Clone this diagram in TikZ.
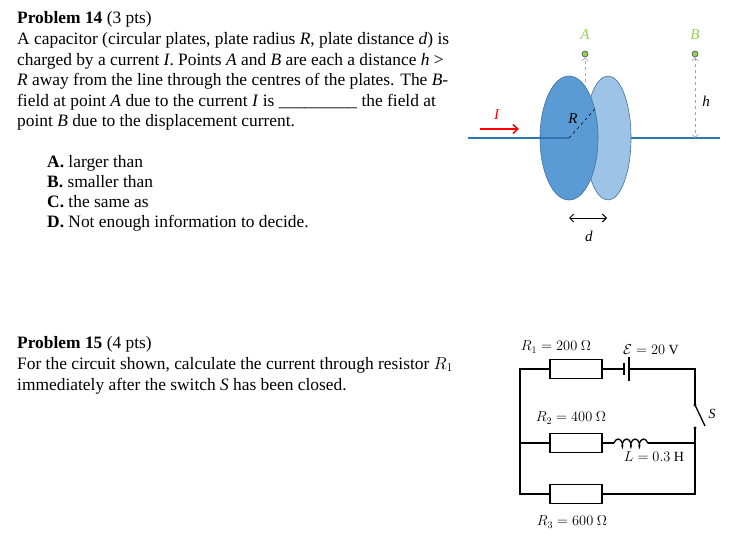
\documentclass[tikz,border=0pt]{standalone}
\usepackage{fontspec}
\setmainfont{Liberation Serif}
\usetikzlibrary{arrows.meta,decorations.pathmorphing,shapes.geometric}
\definecolor{wireblue}{HTML}{2E75B6}
\definecolor{plateA}{HTML}{5B9BD5}
\definecolor{plateB}{HTML}{9DC3E6}
\definecolor{plateE}{HTML}{41719C}
\definecolor{ptgreen}{HTML}{92D050}
\definecolor{lblgreen}{HTML}{92D050}
\tikzset{
  txt/.style={anchor=base west,inner sep=0pt,font=\fontsize{17.4}{20}\selectfont},
  lbl/.style={inner sep=0pt,font=\fontsize{15}{17}\selectfont},
  clbl/.style={inner sep=0pt,font=\fontsize{14}{16}\selectfont},
  res/.style={draw,line width=1.3pt,minimum width=52pt,minimum height=19pt,inner sep=0pt,fill=white},
  wire/.style={line width=1.3pt},
  gdash/.style={gray!70,dashed,line width=0.7pt},
  pt/.style={circle,fill=ptgreen,draw=black!70,line width=0.6pt,inner sep=0pt,minimum size=6pt}
}
\begin{document}
\begin{tikzpicture}[x=1pt,y=-1pt]
\useasboundingbox (0,0) rectangle (735,542);
% Problem 14 text
\node[txt] (l1) at (17,23) {\textbf{Problem 14} (3 pts)};
\node[txt] (l2) at (17,44) {A capacitor (circular plates, plate radius \textit{R}, plate distance \textit{d}) is};
\node[txt] (l3) at (17,65) {charged by a current \textit{I}. Points \textit{A} and \textit{B} are each a distance \textit{h} >};
\node[txt] (l4) at (17,85) {\textit{R} away from the line through the centres of the plates. The \textit{B}-};
\node[txt] (l5) at (17,106) {field at point \textit{A} due to the current \textit{I} is \_\_\_\_\_\_\_\_\_ the field at};
\node[txt] (l6) at (17,126) {point \textit{B} due to the displacement current.};
\node[txt] (o1) at (47,167) {\textbf{A.} larger than};
\node[txt] (o2) at (47,187) {\textbf{B.} smaller than};
\node[txt] (o3) at (47,207) {\textbf{C.} the same as};
\node[txt] (o4) at (47,227) {\textbf{D.} Not enough information to decide.};
% Problem 15 text
\node[txt] (p1) at (17,348) {\textbf{Problem 15} (4 pts)};
\node[txt] (p2) at (17,369) {For the circuit shown, calculate the current through resistor $R_1$};
\node[txt] (p3) at (17,390) {immediately after the switch \textit{S} has been closed.};
% capacitor
\coordinate (wl) at (468,138);
\coordinate (wr) at (720,138);
\draw[wireblue,line width=2pt] (630,138) -- (wr);
\node[ellipse,draw=plateE,fill=plateB,minimum width=46pt,minimum height=124pt,inner sep=0pt,line width=0.6pt] (pb) at (608,138) {};
\node[ellipse,draw=plateE,fill=plateA,minimum width=58pt,minimum height=124pt,inner sep=0pt,line width=0.6pt] (pf) at (569,138) {};
\draw[wireblue,line width=2pt] (wl) -- (569,138);
\coordinate (c) at (569,138);
\coordinate (rr) at (595,109);
\draw[dashed,line width=0.6pt] (c) -- (rr);
\node[lbl] (Rl) at (573,119) {\textit{R}};
\coordinate (i1) at (480,129); \coordinate (i2) at (519,129);
\draw[red,line width=1.5pt,-{Straight Barb[length=5pt,width=9pt]}] (i1) -- (i2);
\node[lbl,red] (Il) at (497,115) {\textit{I}};
\node[pt] (A) at (585,54) {};
\node[pt] (B) at (695,54) {};
\node[lbl,lblgreen] (Al) at (585,35) {\textit{A}};
\node[lbl,lblgreen] (Bl) at (695,35) {\textit{B}};
\coordinate (Ab) at (585,82);
\coordinate (Bb) at (695,138);
\draw[gdash,-{Straight Barb[length=3pt,width=6pt]}] (Ab) -- (A);
\draw[gdash,{Straight Barb[length=3pt,width=6pt]}-{Straight Barb[length=3pt,width=6pt]}] (B) -- (Bb);
\node[lbl] (hl) at (706,101) {\textit{h}};
\coordinate (d1) at (569,218); \coordinate (d2) at (607,218);
\draw[line width=1pt,{Straight Barb[length=4pt,width=8pt]}-{Straight Barb[length=4pt,width=8pt]}] (d1) -- (d2);
\node[lbl] (dl) at (589,236) {\textit{d}};
% circuit
\coordinate (TL) at (520,369); \coordinate (TR) at (695,369);
\coordinate (ML) at (520,443); \coordinate (MR) at (695,443);
\coordinate (BL) at (520,494); \coordinate (BR) at (695,494);
\coordinate (bat1) at (624,369); \coordinate (bat2) at (629,369);
\coordinate (s1) at (695,405); \coordinate (s2) at (695,428);
\coordinate (sb) at (705,426);
\coordinate (ind1) at (614,443); \coordinate (ind2) at (648,443);
\draw[wire] (bat1) -- (TL) -- (BL) -- (BR) -- (s2);
\draw[wire] (bat2) -- (TR) -- (s1);
\draw[wire] (ML) -- (ind1);
\draw[wire,decorate,decoration={coil,aspect=0.5,segment length=8.5pt,amplitude=4pt}] (ind1) -- (ind2);
\draw[wire] (ind2) -- (MR);
\draw[wire] (s1) -- (sb);
\fill (s1) circle (1.6pt); \fill (s2) circle (1.6pt);
\draw[wire] (624,363) -- (624,375);
\draw[wire] (629,357) -- (629,381);
\node[res] (R1) at (576,369) {};
\node[res] (R2) at (576,443) {};
\node[res] (R3) at (576,494) {};
\node[clbl] (R1l) at (556,347) {$R_1 = 200\ \Omega$};
\node[clbl] (El) at (651,350) {$\mathcal{E} = 20\ \mathrm{V}$};
\node[clbl] (R2l) at (571,418) {$R_2 = 400\ \Omega$};
\node[clbl] (Ll) at (654,457) {$L = 0.3\ \mathrm{H}$};
\node[clbl] (R3l) at (572,522) {$R_3 = 600\ \Omega$};
\node[clbl] (Sl) at (712,414) {\textit{S}};
\end{tikzpicture}
\end{document}
